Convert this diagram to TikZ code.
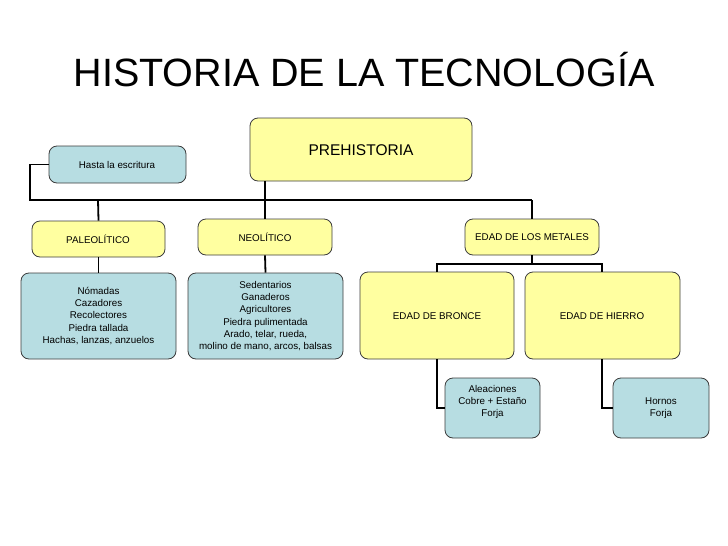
\documentclass[tikz,border=0pt]{standalone}
\usepackage{fontspec}
\setmainfont{Liberation Sans}
\definecolor{yel}{RGB}{255,255,160}
\definecolor{blu}{RGB}{183,221,226}
\definecolor{edge}{RGB}{60,60,60}
\begin{document}
\begin{tikzpicture}[x=1pt,y=-1pt,
  bx/.style={draw=edge,line width=0.8pt,rounded corners=8pt,inner sep=0pt},
  yb/.style={bx,fill=yel},
  bb/.style={bx,fill=blu},
  tx/.style={align=center,font=\fontsize{9.8}{12.2}\selectfont},
  ln/.style={line width=1.8pt,black}]
\useasboundingbox (0,0) rectangle (728,546);
\node[font=\fontsize{39.5}{44}\selectfont] (title) at (364,70) {HISTORIA DE LA TECNOLOGÍA};
\newcommand{\boxat}[6]{\node[#1,minimum width=#4-#2,minimum height=#5-#3] (#6) at ({(#2+#4)/2},{(#3+#5)/2}) {};}
\boxat{yb}{250}{118}{472}{181}{pre}
\node[font=\fontsize{15.5}{18}\selectfont] (pret) at (361,150) {PREHISTORIA};
\boxat{bb}{49}{146}{186}{183}{hasta}
\node[tx] (hastat) at (117,165) {Hasta la escritura};
\boxat{yb}{32}{221}{165}{257}{paleo}
\node[tx] (paleot) at (98,239) {PALEOLÍTICO};
\boxat{yb}{198}{219}{332}{255}{neo}
\node[tx] (neot) at (265,237) {NEOLÍTICO};
\boxat{yb}{465}{219}{599}{255}{met}
\node[tx] (mett) at (532,237) {EDAD DE LOS METALES};
\boxat{bb}{21}{273}{176}{359}{noma}
\node[tx] (nomat) at (98.5,316) {Nómadas\\Cazadores\\Recolectores\\Piedra tallada\\Hachas, lanzas, anzuelos};
\boxat{bb}{188}{273}{343}{359}{sed}
\node[tx] (sedt) at (265.5,316) {Sedentarios\\Ganaderos\\Agricultores\\Piedra pulimentada\\Arado, telar, rueda,\\molino de mano, arcos, balsas};
\boxat{yb}{360}{272}{514}{359}{bro}
\node[tx] (brot) at (437,316) {EDAD DE BRONCE};
\boxat{yb}{525}{272}{680}{359}{hie}
\node[tx] (hiet) at (602,316) {EDAD DE HIERRO};
\boxat{bb}{445}{378}{540}{438}{ale}
\node[tx] (alet) at (492.5,402) {Aleaciones\\Cobre + Estaño\\Forja};
\boxat{bb}{613}{378}{709}{438}{hor}
\node[tx] (hort) at (661,408) {Hornos\\Forja};
\coordinate (barL) at (30,200);
\coordinate (barR) at (532,200);
\draw[ln] (hasta.west) -| (barL) -- (barR);
\draw[ln] (265,181) -- (265,200);
\draw[ln] (98,200) -- (paleo.north);
\draw[ln] (265,200) -- (neo.north);
\draw[ln] (barR) -- (met.north);
\draw[ln] (paleo.south) -- (noma.north);
\draw[ln] (neo.south) -- (sed.north);
\draw[ln] (met.south) -- (532,264);
\draw[ln] (437,272) |- (602,264) -- (602,272);
\draw[ln] (437,359) |- (ale.west);
\draw[ln] (602,359) |- (hor.west);
\end{tikzpicture}
\end{document}
